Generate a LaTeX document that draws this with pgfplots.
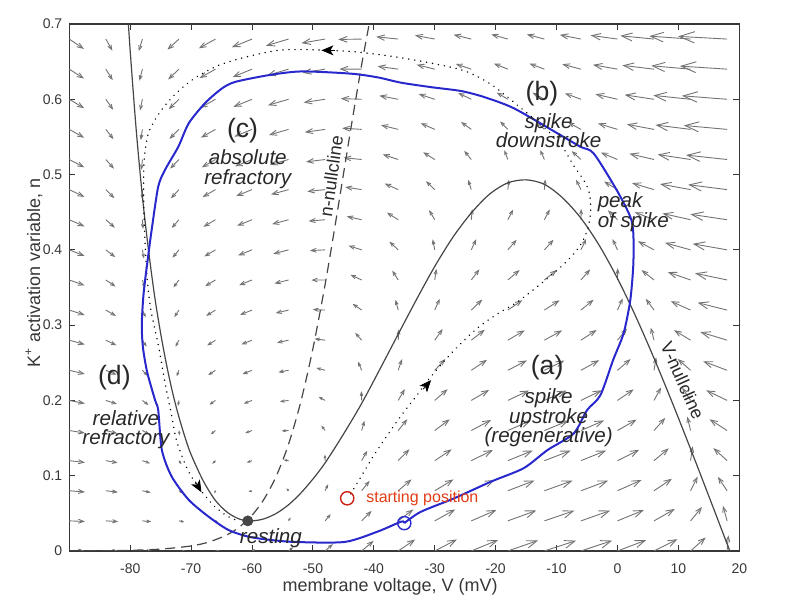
\documentclass[border=0pt]{standalone}
\usepackage{fontspec}
\setmainfont{Liberation Sans}
\usepackage{pgfplots}
\usepackage{pgfplotstable}
\pgfplotsset{compat=1.18}
\usetikzlibrary{arrows.meta}

\definecolor{axisgray}{RGB}{55,55,55}
\definecolor{arrowgray}{RGB}{115,115,115}
\definecolor{curvegray}{RGB}{70,70,70}
\definecolor{cycleblue}{RGB}{40,40,205}
\definecolor{startred}{RGB}{205,30,20}
\definecolor{redtext}{RGB}{225,60,20}
\definecolor{textgray}{RGB}{40,40,40}

% direction field (dV, dn) of the I_Na,p + I_K model, 6 mV x 0.04 grid
\pgfplotstableread{
x y u v
-90 0 1.55 0
-90 0.04 1.55 -0.0005
-90 0.08 1.55 -0.001
-90 0.12 1.55 -0.0015
-90 0.16 1.55 -0.002
-90 0.2 1.55 -0.0025
-90 0.24 1.55 -0.003
-90 0.28 1.55 -0.0035
-90 0.32 1.55 -0.004
-90 0.36 1.55 -0.0045
-90 0.4 1.55 -0.005
-90 0.44 1.55 -0.0055
-90 0.48 1.55 -0.006
-90 0.52 1.55 -0.0065
-90 0.56 1.55 -0.007
-90 0.6 1.55 -0.0075
-90 0.64 1.55 -0.008
-90 0.68 1.55 -0.0085
-84 0 1.098 0
-84 0.04 1.068 -0.0005
-84 0.08 1.038 -0.001
-84 0.12 1.008 -0.0015
-84 0.16 0.978 -0.002
-84 0.2 0.948 -0.0025
-84 0.24 0.918 -0.003
-84 0.28 0.888 -0.0035
-84 0.32 0.858 -0.004
-84 0.36 0.828 -0.0045
-84 0.4 0.798 -0.005
-84 0.44 0.768 -0.0055
-84 0.48 0.738 -0.006
-84 0.52 0.708 -0.0065
-84 0.56 0.678 -0.007
-84 0.6 0.648 -0.0075
-84 0.64 0.618 -0.008
-84 0.68 0.588 -0.0085
-78 0 0.708 0
-78 0.04 0.648 -0.0005
-78 0.08 0.588 -0.001
-78 0.12 0.528 -0.0015
-78 0.16 0.468 -0.002
-78 0.2 0.408 -0.0025
-78 0.24 0.348 -0.003
-78 0.28 0.288 -0.0035
-78 0.32 0.228 -0.004
-78 0.36 0.168 -0.0045
-78 0.4 0.108 -0.005
-78 0.44 0.048 -0.0055
-78 0.48 -0.012 -0.006
-78 0.52 -0.072 -0.0065
-78 0.56 -0.132 -0.007
-78 0.6 -0.192 -0.0075
-78 0.64 -0.252 -0.008
-78 0.68 -0.312 -0.0085
-72 0 0.4 0
-72 0.04 0.31 -0.0005
-72 0.08 0.22 -0.001
-72 0.12 0.13 -0.0015
-72 0.16 0.04 -0.002
-72 0.2 -0.05 -0.0025
-72 0.24 -0.14 -0.003
-72 0.28 -0.23 -0.0035
-72 0.32 -0.32 -0.004
-72 0.36 -0.41 -0.0045
-72 0.4 -0.5 -0.005
-72 0.44 -0.59 -0.0055
-72 0.48 -0.68 -0.006
-72 0.52 -0.77 -0.0065
-72 0.56 -0.86 -0.007
-72 0.6 -0.95 -0.0075
-72 0.64 -1.04 -0.008
-72 0.68 -1.13 -0.0085
-66 0 0.201 0.0002
-66 0.04 0.081 -0.0003
-66 0.08 -0.039 -0.0008
-66 0.12 -0.159 -0.0013
-66 0.16 -0.279 -0.0018
-66 0.2 -0.399 -0.0023
-66 0.24 -0.519 -0.0028
-66 0.28 -0.639 -0.0033
-66 0.32 -0.759 -0.0038
-66 0.36 -0.879 -0.0043
-66 0.4 -0.999 -0.0048
-66 0.44 -1.119 -0.0053
-66 0.48 -1.239 -0.0058
-66 0.52 -1.359 -0.0063
-66 0.56 -1.479 -0.0068
-66 0.6 -1.599 -0.0073
-66 0.64 -1.719 -0.0078
-66 0.68 -1.839 -0.0083
-60 0 0.15 0.0006
-60 0.04 0 0.0001
-60 0.08 -0.15 -0.0004
-60 0.12 -0.3 -0.0009
-60 0.16 -0.45 -0.0014
-60 0.2 -0.6 -0.0019
-60 0.24 -0.75 -0.0024
-60 0.28 -0.9 -0.0029
-60 0.32 -1.05 -0.0034
-60 0.36 -1.2 -0.0039
-60 0.4 -1.35 -0.0044
-60 0.44 -1.5 -0.0049
-60 0.48 -1.65 -0.0054
-60 0.52 -1.8 -0.0059
-60 0.56 -1.95 -0.0064
-60 0.6 -2.1 -0.0069
-60 0.64 -2.25 -0.0074
-60 0.68 -2.4 -0.0079
-54 0 0.276 0.0018
-54 0.04 0.096 0.0013
-54 0.08 -0.084 0.0008
-54 0.12 -0.264 0.0003
-54 0.16 -0.444 -0.0002
-54 0.2 -0.624 -0.0007
-54 0.24 -0.804 -0.0012
-54 0.28 -0.984 -0.0017
-54 0.32 -1.164 -0.0022
-54 0.36 -1.344 -0.0027
-54 0.4 -1.524 -0.0032
-54 0.44 -1.704 -0.0037
-54 0.48 -1.884 -0.0042
-54 0.52 -2.064 -0.0047
-54 0.56 -2.244 -0.0052
-54 0.6 -2.424 -0.0057
-54 0.64 -2.604 -0.0062
-54 0.68 -2.784 -0.0067
-48 0 0.615 0.0044
-48 0.04 0.405 0.0039
-48 0.08 0.195 0.0034
-48 0.12 -0.015 0.0029
-48 0.16 -0.225 0.0024
-48 0.2 -0.435 0.0019
-48 0.24 -0.645 0.0014
-48 0.28 -0.855 0.0009
-48 0.32 -1.065 0.0004
-48 0.36 -1.275 -0.0001
-48 0.4 -1.485 -0.0006
-48 0.44 -1.695 -0.0011
-48 0.48 -1.905 -0.0016
-48 0.52 -2.115 -0.0021
-48 0.56 -2.325 -0.0026
-48 0.6 -2.535 -0.0031
-48 0.64 -2.745 -0.0036
-48 0.68 -2.955 -0.0041
-42 0 1.179 0.0081
-42 0.04 0.939 0.0076
-42 0.08 0.699 0.0071
-42 0.12 0.459 0.0066
-42 0.16 0.219 0.0061
-42 0.2 -0.021 0.0056
-42 0.24 -0.261 0.0051
-42 0.28 -0.501 0.0046
-42 0.32 -0.741 0.0041
-42 0.36 -0.981 0.0036
-42 0.4 -1.221 0.0031
-42 0.44 -1.461 0.0026
-42 0.48 -1.701 0.0021
-42 0.52 -1.941 0.0016
-42 0.56 -2.181 0.0011
-42 0.6 -2.421 0.0006
-42 0.64 -2.661 0.0001
-42 0.68 -2.901 -0.0004
-36 0 1.944 0.0107
-36 0.04 1.674 0.0102
-36 0.08 1.404 0.0097
-36 0.12 1.134 0.0092
-36 0.16 0.864 0.0087
-36 0.2 0.594 0.0082
-36 0.24 0.324 0.0077
-36 0.28 0.054 0.0072
-36 0.32 -0.216 0.0067
-36 0.36 -0.486 0.0062
-36 0.4 -0.756 0.0057
-36 0.44 -1.026 0.0052
-36 0.48 -1.296 0.0047
-36 0.52 -1.566 0.0042
-36 0.56 -1.836 0.0037
-36 0.6 -2.106 0.0032
-36 0.64 -2.376 0.0027
-36 0.68 -2.646 0.0022
-30 0 2.833 0.0119
-30 0.04 2.533 0.0114
-30 0.08 2.233 0.0109
-30 0.12 1.933 0.0104
-30 0.16 1.633 0.0099
-30 0.2 1.333 0.0094
-30 0.24 1.033 0.0089
-30 0.28 0.733 0.0084
-30 0.32 0.433 0.0079
-30 0.36 0.133 0.0074
-30 0.4 -0.167 0.0069
-30 0.44 -0.467 0.0064
-30 0.48 -0.767 0.0059
-30 0.52 -1.067 0.0054
-30 0.56 -1.367 0.0049
-30 0.6 -1.667 0.0044
-30 0.64 -1.967 0.0039
-30 0.68 -2.267 0.0034
-24 0 3.708 0.0123
-24 0.04 3.378 0.0118
-24 0.08 3.048 0.0113
-24 0.12 2.718 0.0108
-24 0.16 2.388 0.0103
-24 0.2 2.058 0.0098
-24 0.24 1.728 0.0093
-24 0.28 1.398 0.0088
-24 0.32 1.068 0.0083
-24 0.36 0.738 0.0078
-24 0.4 0.408 0.0073
-24 0.44 0.078 0.0068
-24 0.48 -0.252 0.0063
-24 0.52 -0.582 0.0058
-24 0.56 -0.912 0.0053
-24 0.6 -1.242 0.0048
-24 0.64 -1.572 0.0043
-24 0.68 -1.902 0.0038
-18 0 4.4 0.0124
-18 0.04 4.04 0.0119
-18 0.08 3.68 0.0114
-18 0.12 3.32 0.0109
-18 0.16 2.96 0.0104
-18 0.2 2.6 0.0099
-18 0.24 2.24 0.0094
-18 0.28 1.88 0.0089
-18 0.32 1.52 0.0084
-18 0.36 1.16 0.0079
-18 0.4 0.8 0.0074
-18 0.44 0.44 0.0069
-18 0.48 0.08 0.0064
-18 0.52 -0.28 0.0059
-18 0.56 -0.64 0.0054
-18 0.6 -1.0 0.0049
-18 0.64 -1.36 0.0044
-18 0.68 -1.72 0.0039
-12 0 4.745 0.0125
-12 0.04 4.355 0.012
-12 0.08 3.965 0.0115
-12 0.12 3.575 0.011
-12 0.16 3.185 0.0105
-12 0.2 2.795 0.01
-12 0.24 2.405 0.0095
-12 0.28 2.015 0.009
-12 0.32 1.625 0.0085
-12 0.36 1.235 0.008
-12 0.4 0.845 0.0075
-12 0.44 0.455 0.007
-12 0.48 0.065 0.0065
-12 0.52 -0.325 0.006
-12 0.56 -0.715 0.0055
-12 0.6 -1.105 0.005
-12 0.64 -1.495 0.0045
-12 0.68 -1.885 0.004
-6 0 4.644 0.0125
-6 0.04 4.224 0.012
-6 0.08 3.804 0.0115
-6 0.12 3.384 0.011
-6 0.16 2.964 0.0105
-6 0.2 2.544 0.01
-6 0.24 2.124 0.0095
-6 0.28 1.704 0.009
-6 0.32 1.284 0.0085
-6 0.36 0.864 0.008
-6 0.4 0.444 0.0075
-6 0.44 0.024 0.007
-6 0.48 -0.396 0.0065
-6 0.52 -0.816 0.006
-6 0.56 -1.236 0.0055
-6 0.6 -1.656 0.005
-6 0.64 -2.076 0.0045
-6 0.68 -2.496 0.004
0 0 4.071 0.0125
0 0.04 3.621 0.012
0 0.08 3.171 0.0115
0 0.12 2.721 0.011
0 0.16 2.271 0.0105
0 0.2 1.821 0.01
0 0.24 1.371 0.0095
0 0.28 0.921 0.009
0 0.32 0.471 0.0085
0 0.36 0.021 0.008
0 0.4 -0.429 0.0075
0 0.44 -0.879 0.007
0 0.48 -1.329 0.0065
0 0.52 -1.779 0.006
0 0.56 -2.229 0.0055
0 0.6 -2.679 0.005
0 0.64 -3.129 0.0045
0 0.68 -3.579 0.004
6 0 3.073 0.0125
6 0.04 2.593 0.012
6 0.08 2.113 0.0115
6 0.12 1.633 0.011
6 0.16 1.153 0.0105
6 0.2 0.673 0.01
6 0.24 0.193 0.0095
6 0.28 -0.287 0.009
6 0.32 -0.767 0.0085
6 0.36 -1.247 0.008
6 0.4 -1.727 0.0075
6 0.44 -2.207 0.007
6 0.48 -2.687 0.0065
6 0.52 -3.167 0.006
6 0.56 -3.647 0.0055
6 0.6 -4.127 0.005
6 0.64 -4.607 0.0045
6 0.68 -5.087 0.004
12 0 1.729 0.0125
12 0.04 1.219 0.012
12 0.08 0.709 0.0115
12 0.12 0.199 0.011
12 0.16 -0.311 0.0105
12 0.2 -0.821 0.01
12 0.24 -1.331 0.0095
12 0.28 -1.841 0.009
12 0.32 -2.351 0.0085
12 0.36 -2.861 0.008
12 0.4 -3.371 0.0075
12 0.44 -3.881 0.007
12 0.48 -4.391 0.0065
12 0.52 -4.901 0.006
12 0.56 -5.411 0.0055
12 0.6 -5.921 0.005
12 0.64 -6.431 0.0045
12 0.68 -6.941 0.004
18 0 0.128 0.0125
18 0.04 -0.412 0.012
18 0.08 -0.952 0.0115
18 0.12 -1.492 0.011
18 0.16 -2.032 0.0105
18 0.2 -2.572 0.01
18 0.24 -3.112 0.0095
18 0.28 -3.652 0.009
18 0.32 -4.192 0.0085
18 0.36 -4.732 0.008
18 0.4 -5.272 0.0075
18 0.44 -5.812 0.007
18 0.48 -6.352 0.0065
18 0.52 -6.892 0.006
18 0.56 -7.432 0.0055
18 0.6 -7.972 0.005
18 0.64 -8.512 0.0045
18 0.68 -9.052 0.004
}\fieldtable

\begin{document}
\begin{tikzpicture}[
  ann/.style={font=\fontsize{10.3}{9.8}\selectfont\itshape, text=textgray, align=center, inner sep=0pt},
  tag/.style={font=\fontsize{13.3}{14}\selectfont, text=textgray, inner sep=0pt},
  ncl/.style={font=\fontsize{9}{10}\selectfont, text=textgray, inner sep=0pt},
  % arrow length on screen compressed as a power 0.65 of the field strength
  declare function={alen(\a,\b)=max(sqrt((6.11*\a)^2+(753*\b)^2),0.4);
                    afac(\a,\b)=3.63*alen(\a,\b)^(-0.35);},
]
\begin{axis}[
  name=ax,
  width=335pt, height=263.5pt, scale only axis,
  xmin=-90, xmax=20, ymin=0, ymax=0.7,
  xtick={-80,-70,-60,-50,-40,-30,-20,-10,0,10,20},
  ytick={0,0.1,0.2,0.3,0.4,0.5,0.6,0.7},
  tick align=inside, major tick length=3pt,
  axis line style={draw=axisgray, line width=0.6pt},
  tick style={draw=axisgray, line width=0.5pt},
  /pgf/number format/assume math mode=true,
  ticklabel style={font=\fontsize{7}{8}\selectfont, text=axisgray},
  xticklabel style={yshift=-2.6pt},
  yticklabel style={/pgf/number format/fixed, /pgf/number format/precision=1},
  xlabel={membrane voltage, V (mV)},
  ylabel={K\textsuperscript{+} activation variable, n},
  label style={font=\fontsize{9}{10}\selectfont, text=axisgray},
  xlabel style={at={(axis description cs:0.479,-0.068)}, anchor=center},
  ylabel style={at={(axis description cs:-0.0527,0.527)}, anchor=center},
]

% direction field
\addplot[
  draw=arrowgray, line width=0.45pt,
  point meta={3.63*alen(\thisrow{u},\thisrow{v})^0.65},
  point meta min=0, point meta max=60,
  quiver={
    u={\thisrow{u}*afac(\thisrow{u},\thisrow{v})},
    v={\thisrow{v}*afac(\thisrow{u},\thisrow{v})},
    every arrow/.append style={-{Straight Barb[length=0.3pt+\pgfplotspointmetatransformed*0.009pt, width=0.3pt+\pgfplotspointmetatransformed*0.0065pt]}}},
] table {\fieldtable};

% V-nullcline
\addplot[curvegray, line width=0.6pt, smooth] coordinates {
(-80.5,0.726) (-80,0.664) (-79,0.558) (-78,0.471) (-77,0.400) (-76,0.339)
(-75,0.289) (-74,0.246) (-73,0.209) (-72,0.178) (-71,0.151) (-70,0.128)
(-68,0.093) (-66,0.067) (-64,0.051) (-62,0.0422) (-60,0.040) (-58,0.0428)
(-56,0.050) (-54,0.0614) (-52,0.0768) (-50,0.0956) (-48,0.117) (-45,0.155)
(-42,0.196) (-39,0.2416) (-36,0.288) (-33,0.334) (-30,0.378) (-27,0.417)
(-24,0.449) (-21,0.474) (-18,0.489) (-15,0.493) (-12,0.487) (-9,0.469)
(-6,0.442) (-3,0.406) (0,0.362) (3,0.3115) (6,0.256) (9,0.197)
(12,0.1356) (15,0.0728) (18,0.0094) (18.45,0)
};

% n-nullcline
\addplot[curvegray, line width=0.6pt, dash pattern=on 5pt off 3pt, smooth] coordinates {
(-90,0) (-85,0.0003) (-80,0.0009) (-75,0.0025) (-70,0.0067) (-67,0.0121)
(-64,0.0219) (-62,0.0323) (-60,0.0474) (-58,0.0692) (-56,0.0998) (-54,0.142)
(-52,0.198) (-50,0.269) (-48,0.354) (-46,0.450) (-44,0.550) (-42,0.646) (-40.5,0.711)
};

% trajectory of one action potential
\addplot[black, line width=0.8pt, line cap=round, dash pattern=on 0.01pt off 3pt, smooth] coordinates {
(-43.8,0.076) (-42,0.100) (-40,0.127) (-37.5,0.157) (-35.5,0.180) (-33,0.206)
(-31,0.228) (-27,0.265) (-23,0.296) (-19.5,0.316) (-16.4,0.331) (-11.5,0.362)
(-8.3,0.385) (-6.2,0.405) (-5,0.425) (-4.4,0.45) (-4.6,0.475) (-5.5,0.492)
(-7.2,0.512) (-9.3,0.540) (-12.1,0.563) (-16.4,0.592) (-20.8,0.620) (-25.2,0.638)
(-31.2,0.649) (-37,0.657) (-43,0.663) (-47.5,0.665) (-52,0.666) (-55.7,0.665)
(-60.6,0.657) (-65.5,0.645) (-69.4,0.628) (-72.6,0.607) (-75.2,0.582) (-77,0.555)
(-77.7,0.52) (-77.8,0.48) (-77.7,0.44) (-77.5,0.40) (-77.2,0.36) (-76.6,0.32)
(-75.3,0.27) (-74.2,0.22) (-73.2,0.18) (-72.4,0.147) (-70.8,0.112) (-69.1,0.088)
(-66.5,0.062) (-64.2,0.047) (-62.3,0.040)
};

% direction marks on the trajectory
\addplot[black, line width=0.4pt,
  quiver={u=\thisrow{u}, v=\thisrow{v}},
  -{Stealth[length=6pt, width=5pt, inset=1.6pt]}]
  table[row sep=\\] {
x y u v \\
-46.3 0.665 -2.3 0 \\
-31.9 0.215 1.3 0.012 \\
-69.3 0.092 1.0 -0.014 \\
};

% limit cycle
\addplot[cycleblue, line width=1pt, smooth, tension=0.45] coordinates {
(-35.0,0.037) (-32.3,0.052) (-26.8,0.070) (-20.8,0.092) (-15.4,0.110)
(-11.5,0.134) (-7.2,0.156) (-5.0,0.187) (-2.8,0.207) (-0.7,0.254)
(1.0,0.289) (2.1,0.333) (2.6,0.38) (2.6,0.422) (2.1,0.444) (-0.1,0.479)
(-3.9,0.528) (-6.1,0.537) (-9.9,0.555) (-17.0,0.588) (-21.9,0.603)
(-25.7,0.611) (-30.5,0.616) (-35.5,0.622) (-39.3,0.629) (-43.7,0.634) (-51.9,0.637)
(-57.3,0.632) (-62.8,0.623) (-65.0,0.614) (-67.7,0.595) (-70.4,0.568)
(-72.1,0.537) (-74.3,0.506) (-75.4,0.484) (-76.4,0.431) (-77.0,0.395)
(-77.8,0.342) (-78.1,0.30) (-77.9,0.27) (-77.2,0.237) (-75.9,0.20)
(-75.4,0.187) (-74.8,0.134) (-73.2,0.099) (-70.4,0.068) (-67.2,0.046)
(-63.9,0.028) (-60.6,0.019) (-57.3,0.015) (-53.0,0.012) (-44.8,0.012)
(-39.3,0.026) (-35.5,0.039) (-35.0,0.037)
};

% resting state
\addplot[only marks, mark=*, mark size=2.5pt, mark options={fill=curvegray, draw=curvegray}] coordinates {(-60.7,0.040)};
% starting positions
\addplot[only marks, mark=o, mark size=3.3pt, mark options={draw=startred, line width=0.7pt}] coordinates {(-44.37,0.070)};
\addplot[only marks, mark=o, mark size=3.3pt, mark options={draw=cycleblue, line width=0.7pt}] coordinates {(-35.0,0.037)};

% annotations
\node[tag] at (axis cs:-11.55,0.2437) {(a)};
\node[ann] at (axis cs:-11.3,0.177) {spike\\upstroke\\(regenerative)};
\node[tag] at (axis cs:-12.4,0.607) {(b)};
\node[ann] at (axis cs:-11.3,0.5585) {spike\\downstroke};
\node[ann, align=left, anchor=west] at (axis cs:-3.3,0.450) {peak\\of spike};
\node[tag] at (axis cs:-61.55,0.5585) {(c)};
\node[ann] at (axis cs:-60.7,0.507) {absolute\\refractory};
\node[tag] at (axis cs:-82.6,0.230) {(d)};
\node[ann] at (axis cs:-80.7,0.161) {relative\\refractory};
\node[ann] at (axis cs:-56.9,0.0173) {resting};
\node[ncl, rotate=82] at (axis cs:-47.0,0.498) {n-nullcline};
\node[ncl, rotate=-66] at (axis cs:10.7,0.226) {V-nullcline};
\node[font=\fontsize{8}{9}\selectfont, text=redtext, anchor=west, inner sep=0pt] at (axis cs:-41.3,0.0704) {starting position};
\end{axis}
\path ([xshift=-34.65pt,yshift=-26pt]ax.south west) rectangle ([xshift=26.35pt,yshift=12pt]ax.north east);
\end{tikzpicture}
\end{document}
